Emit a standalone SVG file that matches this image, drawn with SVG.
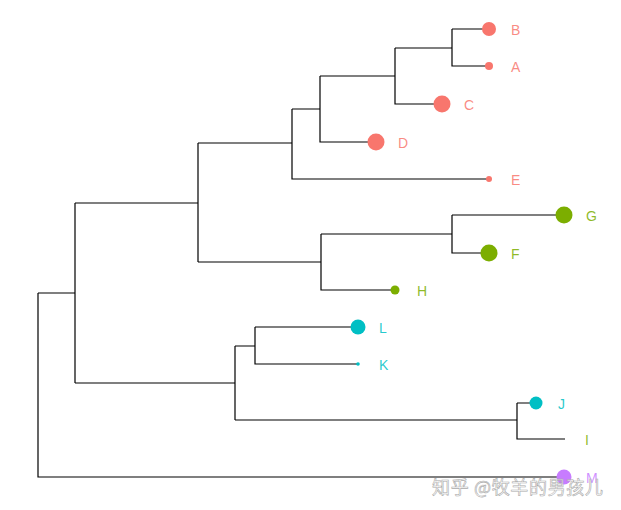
<svg xmlns="http://www.w3.org/2000/svg" width="621" height="510" viewBox="0 0 621 510">
<style>
.e{fill:none;stroke:#000;stroke-width:1.2}
.t{font-family:"Liberation Sans",Arial,sans-serif;font-size:14px;fill-opacity:0.85}
.r{fill:#F8766D}.g{fill:#7CAE00}.c{fill:#00BFC4}.p{fill:#C77CFF}
.wm{font-family:"Noto Sans CJK SC","Liberation Sans",sans-serif;font-size:18px;fill:#fff;fill-opacity:0.6;stroke:#aaa;stroke-width:0.6}
</style>
<rect width="621" height="510" fill="#fff"/>
<g id="edges">
<path class="e" d="M38,293V477H565M38,293H75M75,203V383M75,203H198M198,143V262M198,143H292M292,109V179H489M292,109H320M320,76V142H376M320,76H395M395,48V104H442M395,48H452M452,29V66H489M452,29H489M198,262H321M321,234V290H395M321,234H452M452,215V253H489M452,215H564M75,383H235M235,346V420M235,346H255M255,327V364H358M255,327H358M235,420H517M517,403V439H565M517,403H536"/>
</g>
<g id="B"><circle class="r" cx="489" cy="29" r="7"/><text class="t r" x="511" y="35">B</text></g>
<g id="A"><circle class="r" cx="489" cy="66" r="4"/><text class="t r" x="511" y="72">A</text></g>
<g id="C"><circle class="r" cx="442" cy="104" r="8.5"/><text class="t r" x="464" y="110">C</text></g>
<g id="D"><circle class="r" cx="376" cy="142" r="8.5"/><text class="t r" x="398" y="148">D</text></g>
<g id="E"><circle class="r" cx="489" cy="179" r="3"/><text class="t r" x="511" y="185">E</text></g>
<g id="G"><circle class="g" cx="564" cy="215" r="8.5"/><text class="t g" x="586" y="221">G</text></g>
<g id="F"><circle class="g" cx="489" cy="253" r="8.5"/><text class="t g" x="511" y="259">F</text></g>
<g id="H"><circle class="g" cx="395" cy="290" r="4.5"/><text class="t g" x="417" y="296">H</text></g>
<g id="L"><circle class="c" cx="358" cy="327" r="7.5"/><text class="t c" x="379" y="333">L</text></g>
<g id="K"><circle class="c" cx="358" cy="364" r="1.8"/><text class="t c" x="379" y="370">K</text></g>
<g id="J"><circle class="c" cx="536" cy="403" r="6.5"/><text class="t c" x="558" y="409">J</text></g>
<g id="I"><text class="t g" x="585" y="445">I</text></g>
<g id="M"><circle class="p" cx="564" cy="477" r="7.5"/><text class="t p" x="586" y="483">M</text></g>
<text class="wm" x="432" y="494" textLength="171">知乎 @牧羊的男孩儿</text>
</svg>
